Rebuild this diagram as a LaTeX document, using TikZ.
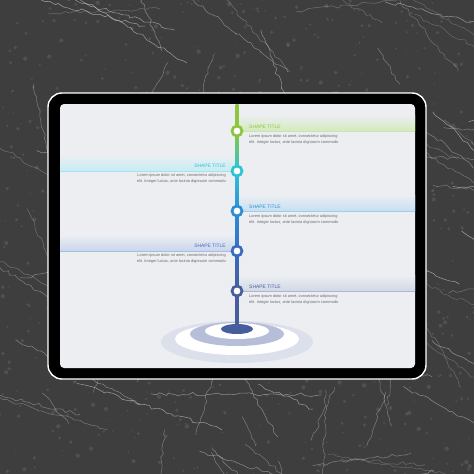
\documentclass[tikz,border=0pt]{standalone}
\usepackage{fontspec}
\setmainfont{Liberation Sans}
\usetikzlibrary{calc,decorations.pathmorphing}
\definecolor{marble}{HTML}{3E3E3E}
\definecolor{vein}{HTML}{D8D8D8}
\definecolor{screenbg}{HTML}{ECEEF2}
\definecolor{cA}{HTML}{8CC63F}
\definecolor{cB}{HTML}{2FC3D6}
\definecolor{cC}{HTML}{2E8ED3}
\definecolor{cD}{HTML}{3A6BC0}
\definecolor{cE}{HTML}{465E9C}
\definecolor{tA}{HTML}{D3EABD}
\definecolor{tB}{HTML}{C6EDF4}
\definecolor{tC}{HTML}{C6DFF3}
\definecolor{tD}{HTML}{CAD6EE}
\definecolor{tE}{HTML}{D2D8E6}
\definecolor{ringpale}{HTML}{DCE0EA}
\definecolor{ringmid}{HTML}{B7BFD8}
\definecolor{bodygray}{HTML}{6A6A6A}
\begin{document}
\begin{tikzpicture}
[x=0.03cm,y=-0.03cm,
  ringdecorate/.style={shape=circle,draw=#1,fill=white,line width=2.3pt,inner sep=0pt,minimum size=0.3cm},%
  titledecorate/.style={text=#1,font=\fontsize{4.2}{5}\selectfont},%
  bodydecorate/.style={text=bodygray,font=\fontsize{3.35}{5.6}\selectfont,inner sep=0pt},%
  veindecorate/.style={vein,line width=0.45pt,decorate,
    decoration={random steps,segment length=4pt,amplitude=1.5pt}}]
\useasboundingbox (0,0) rectangle (474,474);
%% marble background
\begin{scope}
\clip (0,0) rectangle (474,474);
\fill[marble] (0,0) rectangle (474,474);
\pgfmathsetseed{11}
\foreach \i in {1,...,700} {
  \pgfmathsetmacro{\xa}{rnd*474}
  \pgfmathsetmacro{\ya}{rnd*474}
  \fill[vein,opacity=0.12] (\xa,\ya) circle[radius=0.6+rnd*1.6];
}
\foreach \i in {1,...,80} {
  \pgfmathsetmacro{\xa}{rnd*560-60}
  \pgfmathsetmacro{\ya}{rnd*560-60}
  \pgfmathsetmacro{\dx}{rnd*150+30}
  \pgfmathsetmacro{\dy}{rnd*140-20}
  \pgfmathsetmacro{\op}{0.25+rnd*0.4}
  \draw[veindecorate,opacity=\op] (\xa,\ya) -- ++(\dx,\dy);
}
\foreach \i in {1,...,30} {
  \pgfmathsetmacro{\xa}{rnd*474}
  \pgfmathsetmacro{\ya}{rnd*474}
  \pgfmathsetmacro{\dx}{rnd*60-30}
  \pgfmathsetmacro{\dy}{rnd*80+20}
  \draw[veindecorate,opacity=0.4] (\xa,\ya) -- ++(\dx,\dy);
}
\end{scope}
%% tablet and screen
\draw[white,line width=1.2pt,fill=black,rounded corners=0.42cm] (48,93) rectangle (426,379);
\fill[screenbg,rounded corners=0.12cm] (60,104) rectangle (415,368);
%% bands behind the items
\foreach \y/\tint/\col in {131/tA/cA, 211/tC/cC, 291/tE/cE} {
  \shade[top color=screenbg,bottom color=\tint] (237,\y-16) rectangle (415,\y);
  \draw[\col!45,line width=0.3pt] (237,\y) -- (415,\y);
}
\foreach \y/\tint/\col in {171/tB/cB, 251/tD/cD} {
  \shade[top color=screenbg,bottom color=\tint] (60,\y-16) rectangle (237,\y);
  \draw[\col!45,line width=0.3pt] (60,\y) -- (237,\y);
}
%% target at the foot
\fill[ringpale] (237,342) ellipse[x radius=76,y radius=21];
\fill[white] (237,339) ellipse[x radius=62,y radius=16];
\fill[ringmid] (237,334) ellipse[x radius=47,y radius=12];
\fill[white] (237,331) ellipse[x radius=32,y radius=8];
%% nodes or vertices
\coordinate (top) at (237,104);
\coordinate (base) at (237,329);
\foreach \nodename/\y in {c1/131, c2/171, c3/211, c4/251, c5/291} {
  \coordinate (\nodename) at (237,\y);
}
%% timeline
\foreach \startnode/\endnode/\ca/\cb in {top/c1/cA/cA, c1/c2/cA/cB, c2/c3/cB/cC, c3/c4/cC/cD, c4/c5/cD/cE, c5/base/cE/cE} {
  \shade[top color=\ca,bottom color=\cb] ($(\startnode)+(-1.5,0)$) rectangle ($(\endnode)+(1.5,0)$);
}
\fill[cE] (base) ellipse[x radius=16,y radius=5];
\foreach \nodename/\col in {c1/cA, c2/cB, c3/cC, c4/cD, c5/cE} {
  \node[ringdecorate=\col] at (\nodename) {};
}
%% texts
\foreach \nodename/\col in {c1/cA, c3/cC, c5/cE} {
  \node[titledecorate=\col,anchor=base west,inner sep=0pt] (\nodename t) at ($(\nodename)+(12,-2.5)$) {SHAPE TITLE};
  \node[bodydecorate,anchor=north west,align=left] (\nodename b) at ($(\nodename)+(12,3.2)$)
    {Lorem ipsum dolor sit amet, consectetur adipiscing\\elit. Integer luctus, ante lacinia dignissim commodo};
}
\foreach \nodename/\col in {c2/cB, c4/cD} {
  \node[titledecorate=\col,anchor=base east,inner sep=0pt] (\nodename t) at ($(\nodename)+(-11,-3.5)$) {SHAPE TITLE};
  \node[bodydecorate,anchor=north east,align=right] (\nodename b) at ($(\nodename)+(-11,2.2)$)
    {Lorem ipsum dolor sit amet, consectetur adipiscing\\elit. Integer luctus, ante lacinia dignissim commodo};
}
\end{tikzpicture}
\end{document}
